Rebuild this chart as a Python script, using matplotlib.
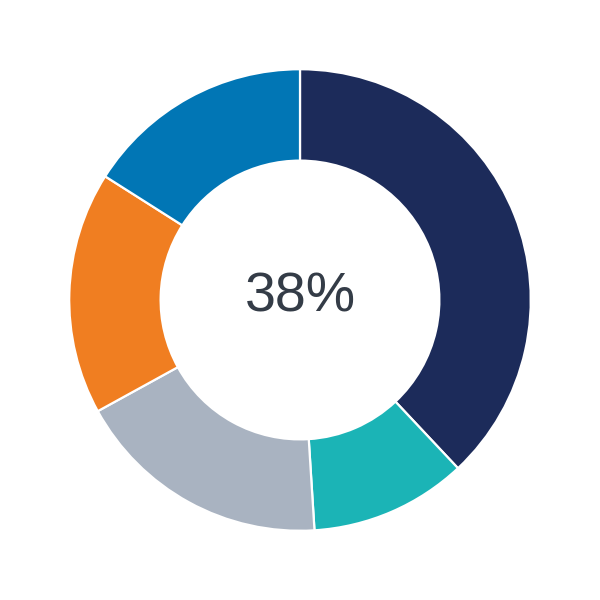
import matplotlib
matplotlib.use("Agg")
from matplotlib import pyplot as plt

# slice values (clockwise from 12 o'clock)
labels = ["A", "B", "C", "D", "E"]
values = [38, 11, 18, 17, 16]
colors = ["#1c2b5a", "#1bb4b6", "#a9b3c1", "#f07e21", "#0176b5"]
center_text = "38%"

fig = plt.figure(figsize=(6, 6), dpi=100)
ax = fig.add_axes([0, 0, 1, 1])

ax.pie(values, colors=colors, startangle=90, counterclock=False,
       radius=1.0,
       wedgeprops=dict(width=0.396, edgecolor="white", linewidth=1.6))

ax.text(0, 0.01, center_text, ha="center", va="center",
        fontsize=40, color="#343c47", family="Liberation Sans")

ax.set_xlim(-1.3, 1.3)
ax.set_ylim(-1.3, 1.3)
ax.set_aspect("equal")
ax.axis("off")

fig.savefig("out.png", dpi=100, facecolor="white")
